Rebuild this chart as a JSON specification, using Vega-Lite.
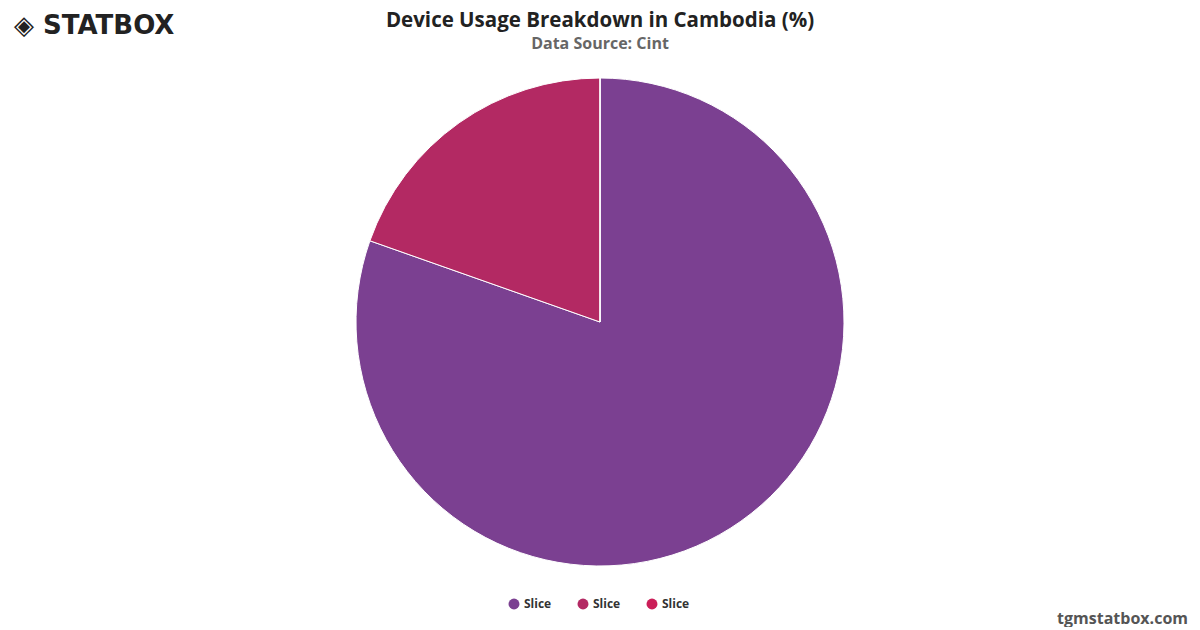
{
  "$schema": "https://vega.github.io/schema/vega-lite/v6.json",
  "padding": {"top": 10, "left": 0, "right": 0, "bottom": 0},
  "background": "white",
  "config": {
    "view": {"stroke": null},
    "concat": {"spacing": 0},
    "font": "Open Sans"
  },
  "title": {
    "text": "◈ STATBOX",
    "orient": "top",
    "anchor": "start",
    "offset": -28,
    "dx": 14,
    "font": "DejaVu Sans",
    "fontWeight": "bold",
    "fontSize": 26,
    "color": "#222222"
  },
  "vconcat": [
    {
      "title": {
        "text": "tgmstatbox.com",
        "orient": "bottom",
        "anchor": "end",
        "offset": 43,
        "dx": -12,
        "font": "Open Sans",
        "fontWeight": "bold",
        "fontSize": 16,
        "color": "#555555"
      },
      "vconcat": [
        {
          "width": 1200,
          "height": 488,
          "title": {
            "text": "Device Usage Breakdown in Cambodia (%)",
            "subtitle": "Data Source: Cint",
            "anchor": "middle",
            "font": "Open Sans",
            "fontSize": 20.5,
            "fontWeight": "bold",
            "color": "#222222",
            "subtitleFont": "Open Sans",
            "subtitleFontSize": 16,
            "subtitleFontWeight": "bold",
            "subtitleColor": "#666666",
            "subtitlePadding": 5,
            "offset": 24
          },
          "data": {
            "values": [
              {"slice": "Slice 1", "value": 80.4},
              {"slice": "Slice 2", "value": 19.6},
              {"slice": "Slice 3", "value": 0}
            ]
          },
          "mark": {"type": "arc", "stroke": "white", "strokeWidth": 1},
          "encoding": {
            "theta": {"field": "value", "type": "quantitative", "stack": true},
            "color": {
              "field": "slice",
              "type": "nominal",
              "scale": {
                "domain": ["Slice 1", "Slice 2", "Slice 3"],
                "range": ["#7B4091", "#B32963", "#CB1E58"]
              },
              "legend": {
                "orient": "none",
                "legendX": 508,
                "legendY": 520,
                "direction": "horizontal",
                "title": null,
                "labelExpr": "'Slice'",
                "symbolType": "circle",
                "symbolSize": 120,
                "symbolStrokeWidth": 0,
                "labelFont": "Open Sans",
                "labelFontWeight": "bold",
                "labelFontSize": 12,
                "labelColor": "#333333",
                "labelLimit": 0,
                "columnPadding": 25
              }
            },
            "order": {"field": "slice", "sort": "ascending"}
          }
        }
      ]
    }
  ]
}
